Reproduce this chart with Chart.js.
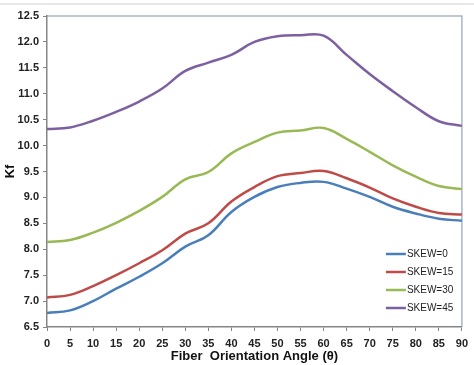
<!DOCTYPE html>
<html>
<head>
<meta charset="utf-8">
<script src="https://cdn.jsdelivr.net/npm/chart.js@4.4.0/dist/chart.umd.min.js"></script>
<style>
    html, body { margin: 0; padding: 0; background: #fff; }
    #wrap { position: relative; width: 474px; height: 365px; }
</style>
</head>
<body>
<div id="wrap"><canvas id="chart" width="474" height="365"></canvas></div>
<script>
// Data
const angles = [0, 5, 10, 15, 20, 25, 30, 35, 40, 45, 50, 55, 60, 65, 70, 75, 80, 85, 90];
const skew0  = [6.77, 6.82, 7.00, 7.24, 7.47, 7.73, 8.05, 8.27, 8.72, 9.01, 9.20, 9.28, 9.30, 9.17, 9.01, 8.82, 8.69, 8.59, 8.55];
const skew15 = [7.07, 7.12, 7.29, 7.50, 7.73, 7.98, 8.30, 8.50, 8.92, 9.20, 9.41, 9.47, 9.51, 9.37, 9.19, 8.98, 8.82, 8.70, 8.67];
const skew30 = [8.14, 8.18, 8.32, 8.51, 8.74, 9.01, 9.35, 9.49, 9.85, 10.07, 10.25, 10.29, 10.34, 10.13, 9.88, 9.62, 9.40, 9.22, 9.16];
const skew45 = [10.32, 10.35, 10.48, 10.65, 10.85, 11.10, 11.44, 11.60, 11.75, 12.00, 12.11, 12.13, 12.12, 11.75, 11.38, 11.05, 10.74, 10.47, 10.38];
const seriesNames = ['SKEW=0', 'SKEW=15', 'SKEW=30', 'SKEW=45'];
const seriesColors = ['#4a7ebb', '#be4b48', '#98b954', '#7d60a0'];

const FONT = "'Liberation Sans', Arial, sans-serif";

function toPoints(values) {
    return angles.map((a, i) => ({ x: a, y: values[i] }));
}

// Legend drawn inside the plot area, bottom right
const innerLegend = {
    id: 'innerLegend',
    afterDraw(chart) {
        const ctx = chart.ctx;
        const area = chart.chartArea;
        ctx.save();
        ctx.font = '10px ' + FONT;
        ctx.textBaseline = 'middle';
        chart.data.datasets.forEach((ds, i) => {
            const y = area.bottom - 73 + i * 18;
            const x = area.right - 76;
            ctx.strokeStyle = ds.borderColor;
            ctx.lineWidth = 2.5;
            ctx.beginPath();
            ctx.moveTo(x, y);
            ctx.lineTo(x + 20, y);
            ctx.stroke();
            ctx.fillStyle = '#222';
            ctx.fillText(ds.label, x + 21, y + 0.5);
        });
        ctx.restore();
    }
};

// Plot frame (top and right border) plus the faint line at the top of the picture
const frame = {
    id: 'frame',
    beforeDraw(chart) {
        const ctx = chart.ctx;
        const area = chart.chartArea;
        ctx.save();
        ctx.fillStyle = '#e8e8e8';
        ctx.fillRect(0, 3, chart.width, 2);
        ctx.strokeStyle = '#a9b7c6';
        ctx.lineWidth = 1.5;
        ctx.beginPath();
        ctx.moveTo(area.left, area.top);
        ctx.lineTo(area.right, area.top);
        ctx.lineTo(area.right, area.bottom);
        ctx.stroke();
        ctx.restore();
    }
};

new Chart(document.getElementById('chart'), {
    type: 'line',
    data: {
        datasets: [skew0, skew15, skew30, skew45].map((vals, i) => ({
            label: seriesNames[i],
            data: toPoints(vals),
            borderColor: seriesColors[i],
            backgroundColor: seriesColors[i],
            borderWidth: 2.5,
            pointRadius: 0,
            tension: 0.4,
            fill: false
        }))
    },
    options: {
        responsive: false,
        animation: false,
        layout: { padding: { left: 3, top: 16, right: 12, bottom: 0 } },
        plugins: {
            legend: { display: false },
            tooltip: { enabled: false }
        },
        scales: {
            x: {
                type: 'linear',
                min: 0,
                max: 90,
                afterFit: s => { s.height = 38; },
                ticks: {
                    stepSize: 5,
                    color: '#222',
                    padding: 6,
                    maxRotation: 0,
                    font: { family: FONT, size: 11, weight: 'bold' }
                },
                grid: {
                    drawOnChartArea: false,
                    drawTicks: true,
                    tickLength: 4,
                    color: '#868686'
                },
                border: { color: '#868686', width: 1.5 },
                title: {
                    display: true,
                    text: 'Fiber  Orientation Angle (\u03b8)',
                    color: '#111',
                    padding: { top: 0, bottom: 1 },
                    font: { family: FONT, size: 13, weight: 'bold' }
                }
            },
            y: {
                min: 6.5,
                max: 12.5,
                afterFit: s => { s.width = 44; },
                ticks: {
                    stepSize: 0.5,
                    color: '#222',
                    padding: 4,
                    callback: v => v.toFixed(1),
                    font: { family: FONT, size: 11, weight: 'bold' }
                },
                grid: {
                    drawOnChartArea: false,
                    drawTicks: true,
                    tickLength: 4,
                    color: '#868686'
                },
                border: { color: '#868686', width: 1.5 },
                title: {
                    display: true,
                    text: 'Kf',
                    color: '#111',
                    padding: { top: 0, bottom: 0 },
                    font: { family: FONT, size: 13, weight: 'bold' }
                }
            }
        }
    },
    plugins: [frame, innerLegend]
});
</script>
</body>
</html>
